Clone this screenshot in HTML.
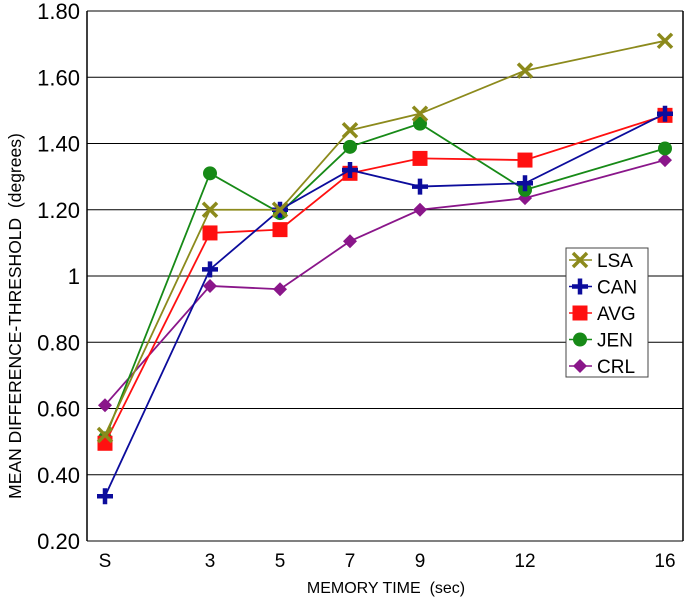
<!DOCTYPE html>
<html><head><meta charset="utf-8"><style>
body{margin:0;background:#fff;}
svg text{font-family:"Liberation Sans",sans-serif;white-space:pre;}
</style></head><body>
<svg id="chart" width="685" height="601" xmlns="http://www.w3.org/2000/svg"></svg>
<script>
const categories = ["S","3","5","7","9","12","16"];
const xValues = [0,3,5,7,9,12,16];
const yTicks = ["0.20","0.40","0.60","0.80","1","1.20","1.40","1.60","1.80"];
const lsa = [0.52,1.20,1.20,1.44,1.49,1.62,1.71];
const can = [0.335,1.02,1.20,1.32,1.27,1.28,1.49];
const avg = [0.495,1.13,1.14,1.31,1.355,1.35,1.485];
const jen = [0.51,1.31,1.19,1.39,1.46,1.26,1.385];
const crl = [0.61,0.97,0.96,1.105,1.20,1.235,1.35];
const seriesNames = ["LSA","CAN","AVG","JEN","CRL"];

const NS="http://www.w3.org/2000/svg";
const svg=document.getElementById('chart');
const X0=87,X1=683,Y0=541,Y1=11;
const xs=v=>105+v*35;
const ys=v=>Y0-(v-0.2)/1.6*(Y0-Y1);
function mk(t,a,p){const e=document.createElementNS(NS,t);for(const k in a)e.setAttribute(k,a[k]);(p||svg).appendChild(e);return e;}

yTicks.forEach((t,i)=>{
  const v=0.2+i*0.2,y=ys(v);
  const g=mk('line',{x1:X0,x2:X1,y1:y,y2:y,stroke:'#000','stroke-width':1});
  
  
  const tx=mk('text',{x:80,y:y+8,'text-anchor':'end','font-size':22,fill:'#000'});
  tx.textContent=t;
  
  
});
const ax=mk('line',{x1:X0,x2:X0,y1:Y1,y2:Y0,stroke:'#000','stroke-width':1.5});


const ax2=mk('line',{x1:X1,x2:X1,y1:Y1,y2:Y0,stroke:'#000','stroke-width':1.5});


categories.forEach((c,i)=>{
  const tx=mk('text',{x:xs(xValues[i]),y:567,'text-anchor':'middle','font-size':19,fill:'#000'});
  tx.textContent=c;
  
  
});
const xt=mk('text',{x:386,y:593,'text-anchor':'middle','font-size':16,fill:'#000'});
xt.textContent='MEMORY TIME  (sec)';


const yt=mk('text',{x:0,y:0,'text-anchor':'middle','font-size':17.5,fill:'#000',transform:'translate(21,316) rotate(-90)'});
yt.textContent='MEAN DIFFERENCE-THRESHOLD  (degrees)';



const colors={LSA:'#8c8a1c',CAN:'#0c0c9c',AVG:'#ff1010',JEN:'#178a17',CRL:'#8a168a'};
function marker(name,x,y,p){
  const c=colors[name];let m;
  if(name==='LSA'){m=mk('path',{d:`M${x-7},${y-7}L${x+7},${y+7}M${x-7},${y+7}L${x+7},${y-7}`,stroke:c,'stroke-width':3.5,fill:'none'},p);}
  else if(name==='CAN'){m=mk('path',{d:`M${x-8},${y}L${x+8},${y}M${x},${y-8}L${x},${y+8}`,stroke:c,'stroke-width':4.5,fill:'none'},p);}
  else if(name==='AVG'){m=mk('rect',{x:x-7.5,y:y-7.5,width:15,height:15,fill:c},p);}
  else if(name==='JEN'){m=mk('circle',{cx:x,cy:y,r:7,fill:c},p);}
  else {m=mk('path',{d:`M${x},${y-7}L${x+7},${y}L${x},${y+7}L${x-7},${y}Z`,fill:c},p);}
  return m;
}
const data={LSA:lsa,CAN:can,AVG:avg,JEN:jen,CRL:crl};
seriesNames.slice().reverse().forEach(n=>{
  const g=mk('g',{});
  
  
  const pts=data[n].map((v,i)=>xs(xValues[i])+','+ys(v)).join(' ');
  const pl=mk('polyline',{points:pts,fill:'none',stroke:colors[n],'stroke-width':1.8},g);
  
  
  data[n].forEach((v,i)=>{
    const m=marker(n,xs(xValues[i]),ys(v),g);
    
    
  });
});
const lg=mk('g',{});


mk('rect',{x:566,y:248,width:82,height:129,fill:'#fff',stroke:'#444','stroke-width':1},lg);
seriesNames.forEach((n,i)=>{
  const y=260+i*26.5;
  const e=mk('g',{},lg);
  
  
  mk('line',{x1:569,x2:592,y1:y,y2:y,stroke:colors[n],'stroke-width':1.5},e);
  marker(n,580,y,e);
  const t=mk('text',{x:597,y:y+7,'font-size':19,fill:'#000'},e);
  t.textContent=n;
});
</script>
</body></html>
